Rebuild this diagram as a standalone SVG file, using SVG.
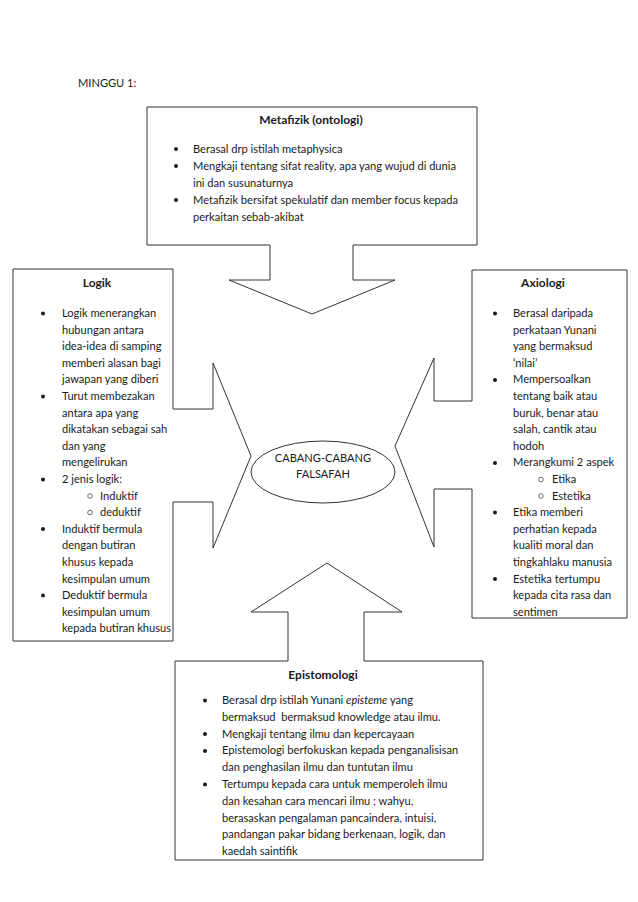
<svg xmlns="http://www.w3.org/2000/svg" width="638" height="902" viewBox="0 0 638 902">
<style>
text{font-family:Lato,"Liberation Sans",sans-serif;font-size:11.1px;fill:#1a1a1a}
.t{font-weight:bold;text-anchor:middle;font-size:12px}
.c{text-anchor:middle}
.edge{fill:none;stroke:#333;stroke-width:1}
.dot{fill:#1a1a1a}
.sub{fill:none;stroke:#444;stroke-width:0.8}
</style>
<rect width="638" height="902" fill="#fff"/>
<text x="78" y="87">MINGGU 1:</text>

<g id="connectors">
<path class="edge" d="M270,245 V280 H229 L312,314 L395,280 H353 V245"/>
<path class="edge" d="M173,409 H213 V363 L251,456 L213,548 V502 H173"/>
<path class="edge" d="M472,401 H434 V358 L395,446 L434,547 V489 H472"/>
<path class="edge" d="M288,661 V612 H251 L327,563 L402,612 H364 V661"/>
</g>

<g id="metafizik">
<path class="edge" d="M270,245 H147 V107 H477 V245 H353"/>
<text class="t" x="311" y="124">Metafizik (ontologi)</text>
<circle class="dot" cx="176" cy="149" r="2"/>
<circle class="dot" cx="176" cy="166" r="2"/>
<circle class="dot" cx="176" cy="200" r="2"/>
<text x="193" y="152.5">Berasal drp istilah metaphysica</text>
<text x="193" y="169.5">Mengkaji tentang sifat reality, apa yang wujud di dunia</text>
<text x="193" y="186.5">ini dan susunaturnya</text>
<text x="193" y="203.5">Metafizik bersifat spekulatif dan member focus kepada</text>
<text x="193" y="220.5">perkaitan sebab-akibat</text>
</g>

<g id="logik">
<path class="edge" d="M173,409 V269 H13 V641 H173 V502"/>
<text class="t" x="97" y="287">Logik</text>
<circle class="dot" cx="43" cy="313.5" r="2"/>
<circle class="dot" cx="43" cy="396.5" r="2"/>
<circle class="dot" cx="43" cy="479.5" r="2"/>
<circle class="sub" cx="90" cy="496" r="2.3"/>
<circle class="sub" cx="90" cy="512.5" r="2.3"/>
<circle class="dot" cx="43" cy="529" r="2"/>
<circle class="dot" cx="43" cy="595.5" r="2"/>
<text x="62" y="317">Logik menerangkan</text>
<text x="62" y="333.6">hubungan antara</text>
<text x="62" y="350.2">idea-idea di samping</text>
<text x="62" y="366.8">memberi alasan bagi</text>
<text x="62" y="383.4">jawapan yang diberi</text>
<text x="62" y="400">Turut membezakan</text>
<text x="62" y="416.6">antara apa yang</text>
<text x="62" y="433.2">dikatakan sebagai sah</text>
<text x="62" y="449.8">dan yang</text>
<text x="62" y="466.4">mengelirukan</text>
<text x="62" y="483">2 jenis logik:</text>
<text x="100" y="499.6">Induktif</text>
<text x="100" y="516.2">deduktif</text>
<text x="62" y="532.8">Induktif bermula</text>
<text x="62" y="549.4">dengan butiran</text>
<text x="62" y="566">khusus kepada</text>
<text x="62" y="582.6">kesimpulan umum</text>
<text x="62" y="599.2">Deduktif bermula</text>
<text x="62" y="615.8">kesimpulan umum</text>
<text x="62" y="632.4">kepada butiran khusus</text>
</g>

<g id="axiologi">
<path class="edge" d="M472,401 V270 H627 V618 H472 V489"/>
<text class="t" x="543" y="287">Axiologi</text>
<circle class="dot" cx="495" cy="313.5" r="2"/>
<circle class="dot" cx="495" cy="380" r="2"/>
<circle class="dot" cx="495" cy="463" r="2"/>
<circle class="sub" cx="541" cy="479.5" r="2.3"/>
<circle class="sub" cx="541" cy="496" r="2.3"/>
<circle class="dot" cx="495" cy="512.5" r="2"/>
<circle class="dot" cx="495" cy="579" r="2"/>
<text x="513" y="317">Berasal daripada</text>
<text x="513" y="333.6">perkataan Yunani</text>
<text x="513" y="350.2">yang bermaksud</text>
<text x="513" y="366.8">‘nilai’</text>
<text x="513" y="383.4">Mempersoalkan</text>
<text x="513" y="400">tentang baik atau</text>
<text x="513" y="416.6">buruk, benar atau</text>
<text x="513" y="433.2">salah, cantik atau</text>
<text x="513" y="449.8">hodoh</text>
<text x="513" y="466.4">Merangkumi 2 aspek</text>
<text x="552" y="483">Etika</text>
<text x="552" y="499.6">Estetika</text>
<text x="513" y="516.2">Etika memberi</text>
<text x="513" y="532.8">perhatian kepada</text>
<text x="513" y="549.4">kualiti moral dan</text>
<text x="513" y="566">tingkahlaku manusia</text>
<text x="513" y="582.6">Estetika tertumpu</text>
<text x="513" y="599.2">kepada cita rasa dan</text>
<text x="513" y="615.8">sentimen</text>
</g>

<g id="epistomologi">
<path class="edge" d="M288,661 H175 V860 H483 V661 H364"/>
<text class="t" x="323" y="679">Epistomologi</text>
<circle class="dot" cx="205" cy="700.5" r="2"/>
<circle class="dot" cx="205" cy="734" r="2"/>
<circle class="dot" cx="205" cy="751" r="2"/>
<circle class="dot" cx="205" cy="784.5" r="2"/>
<text x="222" y="704">Berasal drp istilah Yunani <tspan font-style="italic">episteme</tspan> yang</text>
<text x="222" y="720.8" xml:space="preserve">bermaksud  bermaksud knowledge atau ilmu.</text>
<text x="222" y="737.6">Mengkaji tentang ilmu dan kepercayaan</text>
<text x="222" y="754.4">Epistemologi berfokuskan kepada penganalisisan</text>
<text x="222" y="771.2">dan penghasilan ilmu dan tuntutan ilmu</text>
<text x="222" y="788">Tertumpu kepada cara untuk memperoleh ilmu</text>
<text x="222" y="804.8">dan kesahan cara mencari ilmu ; wahyu,</text>
<text x="222" y="821.6">berasaskan pengalaman pancaindera, intuisi,</text>
<text x="222" y="838.4">pandangan pakar bidang berkenaan, logik, dan</text>
<text x="222" y="855.2">kaedah saintifik</text>
</g>

<g id="cabang">
<ellipse class="edge" cx="323" cy="472" rx="72" ry="31"/>
<text class="c" x="323" y="462">CABANG-CABANG</text>
<text class="c" x="323" y="478">FALSAFAH</text>
</g>
</svg>
